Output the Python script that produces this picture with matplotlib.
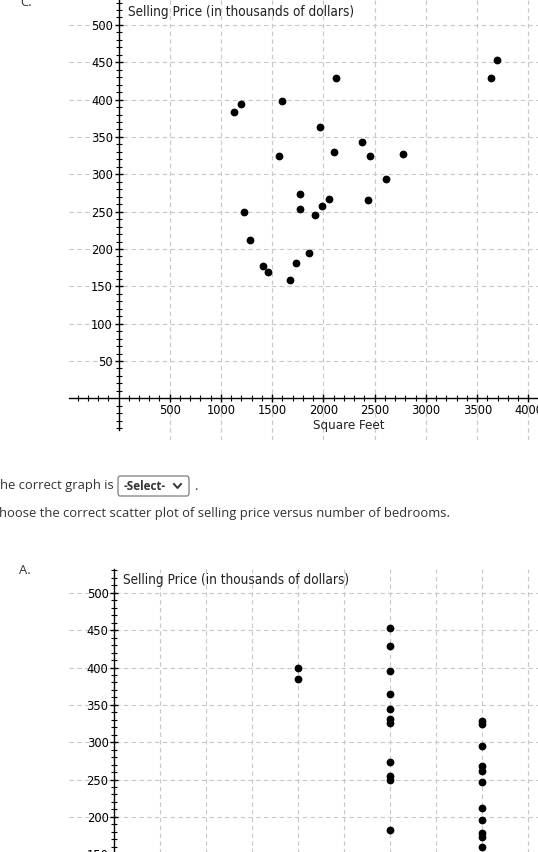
import numpy as np
import matplotlib
matplotlib.use('Agg')
from matplotlib import pyplot as plt
from matplotlib.patches import FancyBboxPatch
from matplotlib.lines import Line2D

# data
sqft = [1130, 1198, 1227, 3696, 3634, 2125, 1595, 1966, 2379, 1569, 2106, 2454, 2779,
        2610, 1771, 2054, 2434, 1771, 1985, 1917, 1283, 1413, 1462, 1859, 1732, 1676]
price_c = [383, 394, 249.5, 452.7, 428.5, 428.5, 397.7, 363, 342.8, 324.5, 329.4, 324.5, 327.2,
           293.3, 273.2, 266.5, 265.2, 253, 257.1, 245.5, 211.6, 176.8, 168.7, 194.2, 180.8, 158]

bedrooms = [2, 2,
            3, 3, 3, 3, 3, 3, 3, 3, 3, 3, 3,
            4, 4, 4, 4, 4, 4, 4, 4, 4, 4, 4]
price_a = [399, 384,
           453.6, 429.5, 395, 364, 344, 331, 325.5, 274, 254.5, 249.5, 182,
           328, 324, 294.5, 268, 261, 247, 212.5, 196, 179, 173, 160]

x_major_c = [500, 1000, 1500, 2000, 2500, 3000, 3500, 4000]
y_major = [50, 100, 150, 200, 250, 300, 350, 400, 450, 500]
x_major_a = [0.5, 1, 1.5, 2, 2.5, 3, 3.5, 4, 4.5]

ylabel = 'Selling Price (in thousands of dollars)'
W, H = 538, 852

fig = plt.figure(figsize=(W / 100, H / 100), dpi=100)
fig.patch.set_facecolor('white')
renderer = fig.canvas.get_renderer()


def px(x, y):
    # pixel position -> figure fraction
    return x / W, 1 - y / H


def fit_width(t, width):
    # shrink/grow a text so it spans about `width` pixels
    w = t.get_window_extent(renderer).width
    t.set_fontsize(t.get_fontsize() * width / w)


def style_axes(ax, xlim, ylim, xmaj, xmin, ymin_ticks, ybound):
    ax.set_xlim(xlim)
    ax.set_ylim(ylim)
    ax.set_facecolor('none')
    for s in ['top', 'right']:
        ax.spines[s].set_visible(False)
    ax.spines['left'].set_position(('data', 0))
    ax.spines['bottom'].set_position(('data', 0))
    ax.spines['left'].set_bounds(*ybound)
    for s in ['left', 'bottom']:
        ax.spines[s].set_linewidth(1.0)
        ax.spines[s].set_color('black')
    ax.set_xticks(xmaj)
    ax.set_xticks(xmin, minor=True)
    ax.set_yticks(y_major)
    ax.set_yticks(ymin_ticks, minor=True)
    ax.tick_params(which='major', direction='inout', length=6, width=1, labelsize=8.3,
                   pad=1, colors='black')
    ax.tick_params(which='minor', direction='inout', length=4, width=0.8)
    ax.grid(True, which='major', color='#c8c8c8', linestyle=(0, (4, 3)), linewidth=0.8)
    ax.set_axisbelow(True)


# chart C: price vs square feet
ax1 = fig.add_axes([69 / W, 1 - 440 / H, (W - 69) / W, 440 / H])
style_axes(ax1, (-483, 4093), (-55.8, 533.4), x_major_c,
           [v for v in range(-400, 4100, 100) if v % 500 != 0 and v != 0],
           [v for v in range(-40, 531, 10) if v % 50 != 0 and v != 0],
           (-42, 533.4))
ax1.plot(sqft, price_c, 'o', color='black', markersize=4.6, clip_on=False, zorder=3)

# chart A: price vs bedrooms (cut off by the page)
ax2 = fig.add_axes([69 / W, (H - 1008) / H, (W - 69) / W, 439 / H])
style_axes(ax2, (-0.49, 4.61), (-56, 532), x_major_a, [],
           [v for v in range(-40, 531, 10) if v % 50 != 0 and v != 0],
           (-42, 532))
ax2.plot(bedrooms, price_a, 'o', color='black', markersize=4.6, zorder=3)

# axis captions
tfont = dict(family=['DejaVu Sans'], fontstretch='condensed', fontsize=10, color='#222222')
t1 = fig.text(*px(128, 12), ylabel, va='center', ha='left', **tfont)
fit_width(t1, 227)
t2 = fig.text(*px(349, 426), 'Square Feet', va='center', ha='center', **tfont)
fit_width(t2, 72)
t3 = fig.text(*px(123, 580), ylabel, va='center', ha='left', **tfont)
fit_width(t3, 227)

# page text around the charts
pfont = dict(family=['Open Sans', 'DejaVu Sans'], fontsize=9.4, color='#333333')
fig.text(*px(20, 2), 'C.', va='center', ha='left', **pfont)
fig.text(*px(19, 571), 'A.', va='center', ha='left', **pfont)
fig.text(*px(0, 486), 'he correct graph is', va='center', ha='left', **pfont)
p2 = fig.text(*px(-1, 513), 'hoose the correct scatter plot of selling price versus number of bedrooms.',
              va='center', ha='left', **pfont)
fit_width(p2, 450)
fig.text(*px(195, 487), '.', va='center', ha='left', **pfont)

# the select box
bx, by = px(118, 496)
bw, bh = 71 / W, 20 / H
fig.patches.append(FancyBboxPatch((bx, by), bw, bh, boxstyle='round,pad=0,rounding_size=0.004',
                                  transform=fig.transFigure, facecolor='white',
                                  edgecolor='#8a8a8a', linewidth=1))
s = fig.text(*px(124, 486.5), '-Select-', va='center', ha='left', fontsize=7.5,
             fontweight='bold', color='#333333', family=['Open Sans', 'DejaVu Sans'])
fit_width(s, 42)
cx = [px(174, 484)[0], px(177.5, 488)[0], px(181, 484)[0]]
cy = [px(174, 484)[1], px(177.5, 488)[1], px(181, 484)[1]]
fig.lines.append(Line2D(cx, cy, transform=fig.transFigure, color='#333333', linewidth=1.4))

fig.savefig('out.png', dpi=100)
